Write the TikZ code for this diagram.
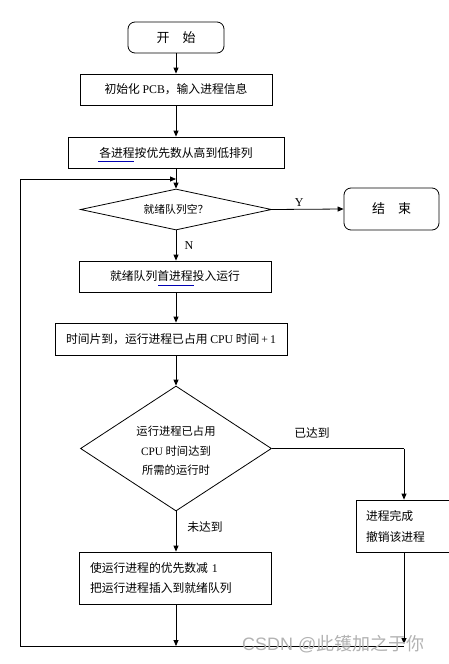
\documentclass[tikz,border=0pt]{standalone}
\usepackage{fontspec}
\setmainfont{Noto Sans CJK SC}
\newfontfamily\lat{Liberation Serif}
\usetikzlibrary{shapes.geometric,arrows.meta}
\begin{document}
\begin{tikzpicture}[x=1pt,y=-1pt,
  box/.style={draw,line width=0.8pt,inner sep=0pt,font=\fontsize{11.8}{14}\selectfont},
  term/.style={box,rounded corners=7pt,font=\fontsize{13}{15}\selectfont},
  dia/.style={draw,diamond,line width=0.8pt,inner sep=0pt},
  lbl/.style={font=\fontsize{11.8}{14}\selectfont,inner sep=0pt},
  arr/.style={line width=0.8pt,-{Triangle[length=6pt,width=5pt]}},
  ln/.style={line width=0.8pt},
  ul/.style={draw=blue!70!black,line width=0.5pt}]
\useasboundingbox (0,0) rectangle (449,664);
\clip (0,0) rectangle (449,664);
% nodes
\node[term,minimum width=96pt,minimum height=31pt] (start) at (176,37.5) {开\hspace{1em}始};
\node[box,minimum width=192pt,minimum height=31pt] (init) at (176,89.5) {初始化 {\lat PCB}，输入进程信息};
\node[box,minimum width=216pt,minimum height=31pt] (sort) at (176,152.5) {各进程按优先数从高到低排列};
\node[dia,minimum width=191pt,minimum height=41pt] (d1) at (176,209.5) {};
\node[lbl,font=\fontsize{10.8}{13}\selectfont] (d1t) at (d1) {就绪队列空？};
\node[term,minimum width=95pt,minimum height=42pt] (end) at (391.5,209) {结\hspace{1em}束};
\node[box,minimum width=192pt,minimum height=31pt] (run) at (175,276.5) {就绪队列首进程投入运行};
\node[box,minimum width=232pt,minimum height=32pt] (tick) at (171,339) {时间片到，运行进程已占用 {\lat CPU} 时间{\lat\,+\,1}};
\node[dia,minimum width=191pt,minimum height=125pt] (d2) at (176,448.5) {};
\node[lbl,align=center,font=\fontsize{11.3}{19.5}\selectfont] (d2t) at (176,451) {运行进程已占用\\{\lat CPU} 时间达到\\所需的运行时};
\node[box,align=left,text width=76pt,inner xsep=10pt,minimum height=52pt,font=\fontsize{11.8}{21}\selectfont] (done) at (404,526) {进程完成\\撤销该进程};
\node[box,align=left,text width=170pt,inner xsep=11pt,minimum height=52pt,font=\fontsize{11.8}{20}\selectfont] (dec) at (175,578) {使运行进程的优先数减 {\lat 1}\\把运行进程插入到就绪队列};
% spell-check underlines
\draw[ul] (98,161) -- (134,161);
\draw[ul] (158,285) -- (194,285);
% coordinates
\coordinate (tl) at (20,179);
\coordinate (loopin) at (176,179);
\coordinate (bl) at (20,646);
\coordinate (bm) at (176,646);
\coordinate (br) at (404,646);
\coordinate (brin) at (404,644);
\coordinate (dcorner) at (404,448.5);
% connectors
\draw[arr] (start) -- (init);
\draw[arr] (init) -- (sort);
\draw[arr] (sort) -- (d1.north);
\draw[arr] (d1.east) -- node[pos=0.38,above=-1pt,font=\lat\fontsize{12}{14}\selectfont] {Y} (end.west);
\draw[arr] (d1.south) -- node[pos=0.5,right=5pt,font=\lat\fontsize{12}{14}\selectfont] {N} (d1.south |- run.north);
\draw[arr] (d1.south |- run.south) -- (d1.south |- tick.north);
\draw[arr] (d1.south |- tick.south) -- (d2.north);
\draw[ln] (d2.east) -- (dcorner);
\draw[arr] (dcorner) -- (done.north);
\node[lbl] (reach) at (312,433) {已达到};
\draw[arr] (d2.south) -- (d2.south |- dec.north);
\node[lbl] (nreach) at (205,527) {未达到};
\draw[arr] (d2.south |- dec.south) -- (bm);
\draw[arr] (done.south) -- (brin);
\draw[ln] (br) -- (bl) -- (tl);
\draw[arr] (tl) -- (loopin);
% watermark
\node[inner sep=0pt,text=black!30,font=\fontsize{18}{20}\selectfont,anchor=west] (wm) at (242,644) {{\fontspec{Liberation Sans}CSDN @}此镬加之于你};
\end{tikzpicture}
\end{document}
